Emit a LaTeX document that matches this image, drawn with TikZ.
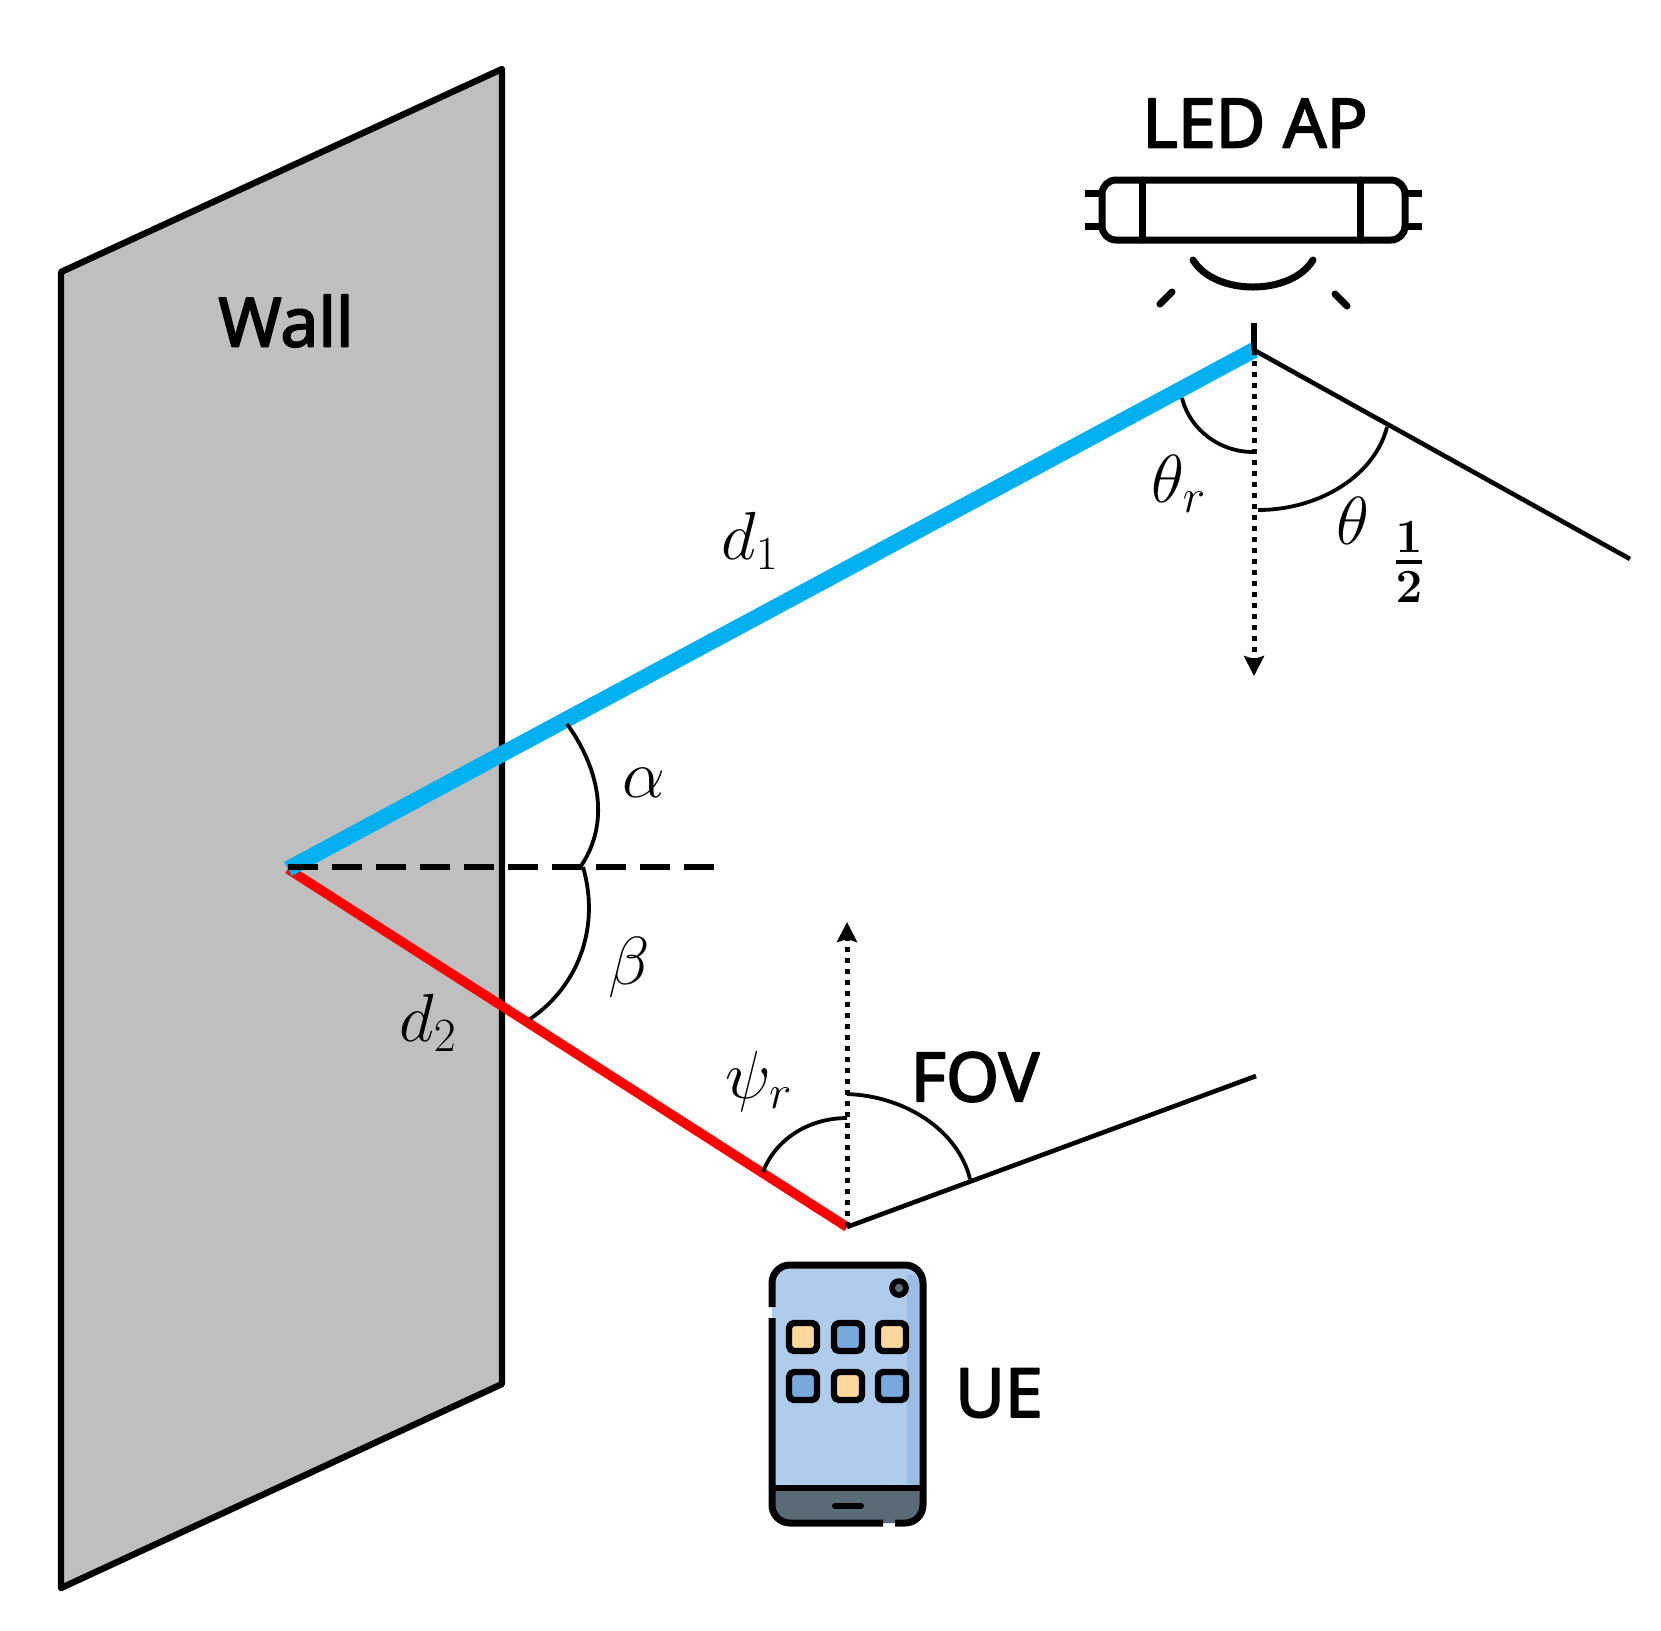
\documentclass[tikz,border=0pt]{standalone}
\usepackage{fix-cm}
\usepackage[no-math]{fontspec}
\usepackage{amsmath}
\usetikzlibrary{arrows.meta}
\newfontfamily\labelfont[FakeBold=2.6]{Noto Sans}
\definecolor{wallgray}{HTML}{BFBFBF}
\definecolor{rayblue}{HTML}{00B0F0}
\definecolor{rayred}{HTML}{FF0000}
\definecolor{phoneblue}{HTML}{B0CCEC}
\definecolor{phoneside}{HTML}{9ABDE4}
\definecolor{phonedark}{HTML}{5B6B76}
\definecolor{appblue}{HTML}{78A9DD}
\definecolor{apporange}{HTML}{FDD79B}
\tikzset{
  wordlabel/.style={font=\labelfont\fontsize{34}{41}\selectfont, inner sep=0pt},
  mathlabel/.style={font=\fontsize{34}{40}\selectfont, inner sep=0pt},
  thinline/.style={line width=2.3pt},
  arcline/.style={line width=1.9pt},
  icon/.style={line width=3.5pt, line cap=round},
  dotline/.style={line width=2.5pt, dash pattern=on 2.6pt off 2.9pt, -{Stealth[width=10pt,length=10pt,inset=1.5pt]}},
}
\begin{document}
\begin{tikzpicture}[x=0.5pt, y=-0.5pt, line join = round]
\useasboundingbox (0,0) rectangle (1661,1630);

\coordinate [] (WallA) at (61,272);
\coordinate [] (WallB) at (502,69);
\coordinate [] (WallC) at (502,1384);
\coordinate [] (WallD) at (61,1588);

\coordinate [] (R) at (288,869);
\coordinate [] (AP) at (1254,350);
\coordinate [] (UE) at (847,1227);
\coordinate [] (APtop) at (1254,323);
\coordinate [] (APend) at (1254,676);
\coordinate [] (UEend) at (847,922);
\coordinate [] (Hend) at (722,867);
\coordinate [] (Rdash) at (288,867);
\coordinate [] (HalfEnd) at (1630,559);
\coordinate [] (FovEnd) at (1256,1076);

\draw[line width=3.2pt, fill=wallgray] (WallA) -- (WallB) -- (WallC) -- (WallD) -- cycle;

\draw[rayred, line width=4.8pt] (R) -- (UE);
\draw[rayblue, line width=8pt] (R) -- (AP);
\draw[line width=2.7pt, dash pattern=on 15pt off 7pt] (Rdash) -- (Hend);

\draw[thinline] (AP) -- (HalfEnd);
\draw[thinline] (UE) -- (FovEnd);
\draw[line width=2.8pt] (APtop) -- (AP);
\draw[dotline] (AP) -- (APend);
\draw[dotline] (UE) -- (UEend);

% angle arcs
\draw[arcline] (567,724) .. controls (597,765) and (612,820) .. (581,866);
\draw[arcline] (583,867) .. controls (600,925) and (580,985) .. (530,1019);
\draw[arcline] (1182,398) .. controls (1190,430) and (1220,452) .. (1253,452);
\draw[arcline] (1387,427) .. controls (1375,475) and (1320,510) .. (1258,510);
\draw[arcline] (763,1172) .. controls (775,1140) and (808,1118) .. (847,1118);
\draw[arcline] (847,1094) .. controls (905,1096) and (958,1130) .. (970,1179);

% LED tube
\draw[icon, rounded corners=7pt] (1102,180) rectangle (1405,240);
\draw[icon] (1142,180) -- (1142,240);
\draw[icon] (1360,180) -- (1360,240);
\foreach \y in {193,226} {
  \draw[icon, line cap=butt] (1085,\y) -- (1102,\y);
  \draw[icon, line cap=butt] (1405,\y) -- (1422,\y);
}
\draw[icon] (1193,260) .. controls (1215,296) and (1291,296) .. (1313,260);
\draw[icon] (1160,304) -- (1172,292);
\draw[icon] (1335,294) -- (1347,306);

% phone
\fill[phoneblue, rounded corners=9pt] (772,1265) rectangle (923,1523);
\fill[phoneside] (907,1275) rectangle (921,1488);
\fill[phonedark, rounded corners=9pt] (772,1488) -- (923,1488) -- (923,1523) -- (772,1523) -- cycle;
\fill[phonedark] (773,1488) rectangle (922,1505);
\draw[icon, line cap=butt, rounded corners=9pt] (772,1318) -- (772,1523) -- (883,1523);
\draw[icon, line cap=butt, rounded corners=9pt] (895,1523) -- (923,1523) -- (923,1265) -- (772,1265) -- (772,1307);
\draw[line width=2.8pt] (772,1488) -- (923,1488);
\draw[line width=3pt, line cap=round] (835,1506) -- (861,1506);
\draw[line width=2.8pt, fill=phonedark] (899,1288) circle (7);
\foreach \x/\y/\c in {803/1337/apporange,848/1337/appblue,892/1337/apporange,803/1386/appblue,848/1386/apporange,892/1386/appblue}
  \draw[line width=3.2pt, fill=\c, rounded corners=2.5pt] (\x-14,\y-14) rectangle (\x+14,\y+14);

% labels
\node[wordlabel] (ledlabel) at (1255,123) {LED AP};
\node[wordlabel] (walllabel) at (286,321) {Wall};
\node[wordlabel] (fovlabel) at (975,1077) {FOV};
\node[wordlabel] (uelabel) at (999,1393) {UE};
\node[mathlabel] (done) at (750,541) {$d_1$};
\node[mathlabel] (dtwo) at (428,1023) {$d_2$};
\node[mathlabel] (alphalabel) at (644,783) {$\alpha$};
\node[mathlabel] (betalabel) at (629,967) {$\beta$};
\node[mathlabel] (thetar) at (1179,484) {$\theta_r$};
\node[mathlabel] (thetahalf) at (1353,521) {$\theta$};
\node[mathlabel] (halflabel) at (1409,562) {$\genfrac{}{}{1.8pt}{1}{\mathbf{1}}{\mathbf{2}}$};
\node[mathlabel] (psir) at (759,1081) {$\psi_r$};
\end{tikzpicture}
\end{document}
